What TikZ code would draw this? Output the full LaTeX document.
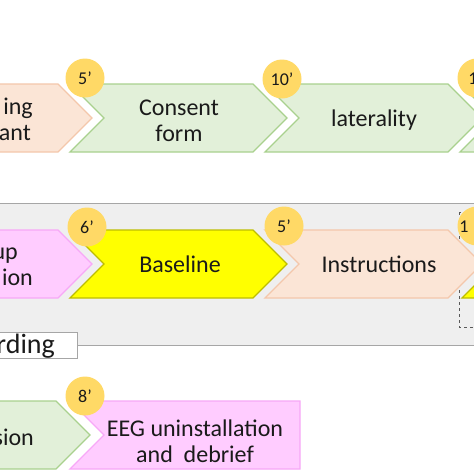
\documentclass[tikz,border=0pt]{standalone}
\usepackage{fontspec}
\setmainfont{Carlito}
\usepackage{tikz}

\definecolor{peachfill}{HTML}{FBE5D6}
\definecolor{peachline}{HTML}{F4C7AB}
\definecolor{greenfill}{HTML}{E2F0D9}
\definecolor{greenline}{HTML}{A9D18E}
\definecolor{pinkfill}{HTML}{FFCCFF}
\definecolor{pinkline}{HTML}{F7A8F7}
\definecolor{yellowfill}{HTML}{FFFF00}
\definecolor{yellowline}{HTML}{BDBD00}
\definecolor{minsfill}{HTML}{FFD966}
\definecolor{panelfill}{HTML}{EFEFEF}
\definecolor{panelline}{HTML}{A6A6A6}
\definecolor{inkcol}{HTML}{1A1A1A}

\tikzset{
  peach/.style={fill=peachfill, draw=peachline, line width=1.3pt, line join=miter},
  green/.style={fill=greenfill, draw=greenline, line width=1.3pt, line join=miter},
  pink/.style={fill=pinkfill, draw=pinkline, line width=1.3pt, line join=miter},
  yellow/.style={fill=yellowfill, draw=yellowline, line width=1.3pt, line join=miter},
  mins/.style={circle, fill=minsfill, inner sep=0pt, minimum size=39pt,
    text=inkcol, font=\fontsize{18}{18}\selectfont},
  lbl/.style={anchor=base, inner sep=0pt, text=inkcol, font=\fontsize{24}{26}\selectfont},
}

\begin{document}
\begin{tikzpicture}[x=1pt, y=-1pt]
    \useasboundingbox (0,0) rectangle (474,474);
    \clip (0,0) rectangle (474,474);
    \fill[white] (0,0) rectangle (474,474);

    % grey panel of the recording
    \draw[fill=panelfill, draw=panelline, line width=1pt] (-5,203) rectangle (490,345);
    \draw[dashed, draw=black!65, line width=0.9pt] (459,212) rectangle (495,327);
    \draw[fill=white, draw=panelline, line width=1pt] (-5,332) rectangle (77,358);
    \node[lbl, anchor=base east, font=\fontsize{28}{28}\selectfont] (rec) at (55,353) {rding};

    % row 1
    \draw[peach] (-125,84) -- (58,84) -- (92,118) -- (58,152) -- (-125,152) -- (-91,118) -- cycle;
    \draw[green] (70,84) -- (253,84) -- (287,118) -- (253,152) -- (70,152) -- (104,118) -- cycle;
    \draw[green] (265,84) -- (448,84) -- (482,118) -- (448,152) -- (265,152) -- (299,118) -- cycle;
    \draw[green] (460,84) -- (643,84) -- (677,118) -- (643,152) -- (460,152) -- (494,118) -- cycle;
    \node[lbl, anchor=base east] (meet1) at (33,114) {ing};
    \node[lbl, anchor=base east] (meet2) at (31,140) {ant};
    \node[lbl] (consent1) at (179,115) {Consent};
    \node[lbl] (consent2) at (179,141) {form};
    \node[lbl] (lat) at (374,126) {laterality};
    \node[mins] (m5a) at (85,78) {5’};
    \node[mins] (m10a) at (282,79) {10’};
    \node[mins] (m1a) at (477,78) {};
    \node[lbl, font=\fontsize{18}{18}\selectfont] (m1atxt) at (473,84) {1};

    % row 2
    \draw[pink] (-125,230) -- (58,230) -- (92,264) -- (58,298) -- (-125,298) -- (-91,264) -- cycle;
    \draw[yellow] (70,230) -- (253,230) -- (287,264) -- (253,298) -- (70,298) -- (104,264) -- cycle;
    \draw[peach] (265,230) -- (448,230) -- (482,264) -- (448,298) -- (265,298) -- (299,264) -- cycle;
    \draw[yellow] (462,230) -- (645,230) -- (679,264) -- (645,298) -- (462,298) -- (496,264) -- cycle;
    \node[lbl, anchor=base east] (setup1) at (18,259) {up};
    \node[lbl, anchor=base east] (setup2) at (33,285) {ion};
    \node[lbl] (base) at (180,272) {Baseline};
    \node[lbl] (instr) at (379,272) {Instructions};
    \node[mins] (m6b) at (87,227) {6’};
    \node[mins] (m5b) at (284,226) {5’};
    \node[mins] (m1b) at (477,226) {};
    \node[lbl, font=\fontsize{18}{18}\selectfont] (m1btxt) at (464,232) {1};

    % row 3
    \draw[green] (-125,401) -- (56,401) -- (90,435) -- (56,469) -- (-125,469) -- (-91,435) -- cycle;
    \draw[pink] (70,401) -- (300,401) -- (300,469) -- (70,469) -- (104,435) -- cycle;
    \node[lbl, anchor=base east] (sess) at (34,445) {sion};
    \node[lbl] (eeg1) at (195,436) {EEG uninstallation};
    \node[lbl] (eeg2) at (195,462) {and\ \ debrief};
    \node[mins] (m8c) at (85,396) {8’};
\end{tikzpicture}
\end{document}
